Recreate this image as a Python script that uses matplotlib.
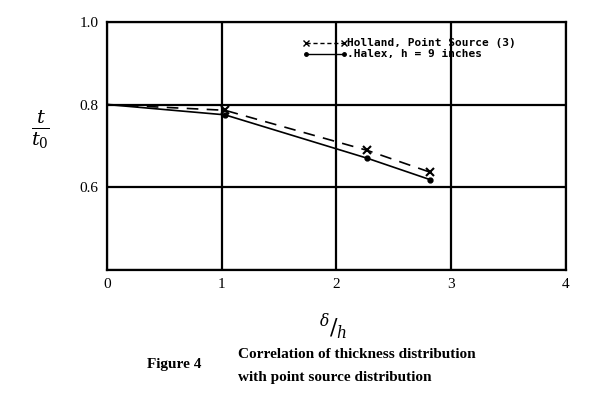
import matplotlib
matplotlib.use("Agg")
import matplotlib.pyplot as plt

holland_x = [0, 1.03, 2.27, 2.82]
holland_y = [0.80, 0.786, 0.689, 0.636]
halex_x = [0, 1.03, 2.27, 2.82]
halex_y = [0.80, 0.775, 0.670, 0.618]
xticks = [0, 1, 2, 3, 4]
yticks = [0.6, 0.8, 1.0]

plt.rcParams['font.family'] = ['Liberation Serif', 'DejaVu Serif']
plt.rcParams['mathtext.fontset'] = 'dejavuserif'
fig = plt.figure(figsize=(6, 4.04), dpi=100)
ax = fig.add_axes([0.178, 0.332, 0.765, 0.614])
ax.set_xlim(0, 4)
ax.set_ylim(0.4, 1.0)
ax.set_xticks(xticks)
ax.set_yticks([0.4] + yticks)
ax.set_yticklabels([''] + ['0.6', '0.8', '1.0'])
ax.tick_params(length=0, labelsize=11, pad=6)
ax.grid(True, color='black', linewidth=1.6)
for s in ax.spines.values():
    s.set_linewidth(1.6)
ax.plot(holland_x, holland_y, color='black', linestyle=(0, (7, 5)), linewidth=1.2)
ax.plot(holland_x[1:], holland_y[1:], 'kx', markersize=6, markeredgewidth=1.5)
ax.plot(halex_x, halex_y, color='black', linewidth=1.2)
ax.plot(halex_x[1:], halex_y[1:], 'ko', markersize=3.5)
ax.plot([1.74, 2.07], [0.948, 0.948], color='black', linestyle=(0, (3, 2)), linewidth=1)
ax.plot([1.74, 2.07], [0.948, 0.948], 'kx', markersize=4)
ax.plot([1.74, 2.07], [0.922, 0.922], color='black', linewidth=1)
ax.plot([1.74, 2.07], [0.922, 0.922], 'ko', markersize=2.5)
ax.text(2.09, 0.948, 'Holland, Point Source (3)', family='DejaVu Sans Mono', fontsize=8, fontweight='bold', va='center')
ax.text(2.09, 0.922, '.Halex, h = 9 inches', family='DejaVu Sans Mono', fontsize=8, fontweight='bold', va='center')
fig.text(0.068, 0.68, r'$\frac{t}{t_0}$', fontsize=20, ha='center', va='center')
fig.text(0.555, 0.19, r'$^{\delta}/_{h}$', fontsize=16, ha='center', va='center')
fig.text(0.245, 0.098, 'Figure 4', fontsize=11, fontweight='bold', va='center')
fig.text(0.397, 0.122, 'Correlation of thickness distribution', fontsize=11, fontweight='bold', va='center')
fig.text(0.397, 0.065, 'with point source distribution', fontsize=11, fontweight='bold', va='center')
fig.savefig('out.png', dpi=100)
